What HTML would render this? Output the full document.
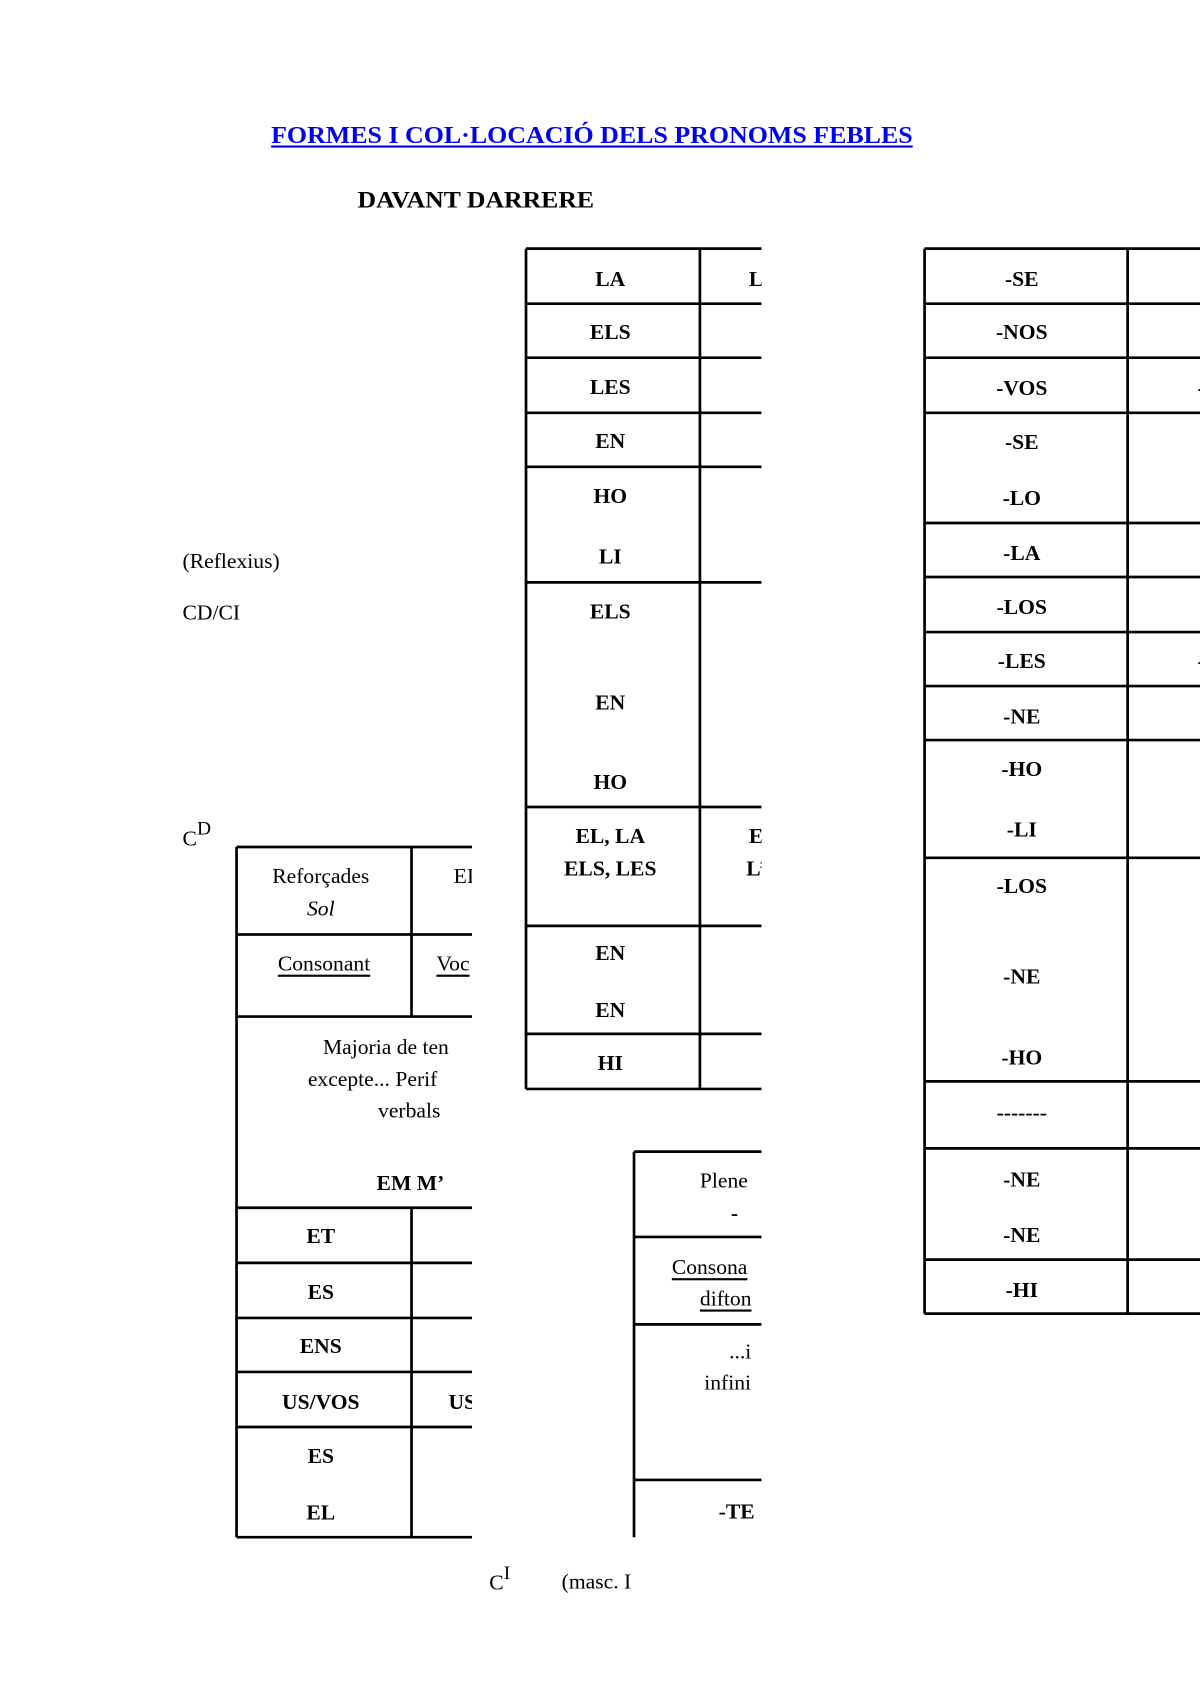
<!DOCTYPE html>
<html><head><meta charset="utf-8"><style>html,body{margin:0;padding:0;background:#fff}svg{display:block}</style></head>
<body>
<svg width="1200" height="1694" viewBox="0 0 1111 1568" xmlns="http://www.w3.org/2000/svg" font-family="'Liberation Serif', serif">
<defs>
<clipPath id="c1"><rect x="480" y="220" width="225" height="800"/></clipPath>
<clipPath id="c2"><rect x="850" y="220" width="261" height="1000"/></clipPath>
<clipPath id="c3"><rect x="210" y="775" width="227" height="660"/></clipPath>
<clipPath id="c4"><rect x="580" y="1060" width="125" height="370"/></clipPath>
</defs>
<text x="251" y="132" font-size="22" font-weight="bold" fill="#0000ee" textLength="594" lengthAdjust="spacingAndGlyphs">FORMES I COL·LOCACIÓ DELS PRONOMS FEBLES</text>
<rect x="251" y="134.5" width="594" height="2" fill="#0000ee"/>
<text x="331" y="192" font-size="21" font-weight="bold" textLength="219" lengthAdjust="spacingAndGlyphs">DAVANT DARRERE</text>

<g stroke="#000" stroke-width="2.5" fill="none">
<path d="M487 230V1008M648 230V1008"/>
<path d="M487 230H705M487 281H705M487 331H705M487 382H705M487 432H705M487 539H705M487 747H705M487 857H705M487 957H705M487 1008H705"/>
<path d="M856 230V1216M1044 230V1216"/>
<path d="M856 230H1111M856 281H1111M856 331H1111M856 382H1111M856 484H1111M856 534H1111M856 585H1111M856 635H1111M856 685H1111M856 794H1111M856 1001H1111M856 1063H1111M856 1166H1111M856 1216H1111"/>
<path d="M219 784V1423M381 784V941M381 1118V1423"/>
<path d="M219 784H437M219 865H437M219 941H437M219 1118H437M219 1169H437M219 1220H437M219 1270H437M219 1321H437M219 1423H437"/>
<path d="M587 1066V1423"/>
<path d="M587 1066H705M587 1145H705M587 1226H705M587 1370H705"/>
</g>

<g font-size="20" font-weight="bold" text-anchor="middle" dominant-baseline="central">
<g clip-path="url(#c1)">
<text x="565" y="258">LA</text><text x="565" y="307">ELS</text><text x="565" y="358">LES</text><text x="565" y="408">EN</text>
<text x="565" y="459">HO</text><text x="565" y="515">LI</text><text x="565" y="566">ELS</text><text x="565" y="650">EN</text>
<text x="565" y="724">HO</text><text x="565" y="774">EL, LA</text><text x="565" y="804">ELS, LES</text>
<text x="565" y="882">EN</text><text x="565" y="935">EN</text><text x="565" y="984">HI</text>
<text x="700" y="258">L</text><text x="700" y="774">E</text><text x="700" y="804">L’</text>
</g>
<g clip-path="url(#c2)">
<text x="946" y="258">-SE</text><text x="946" y="307">-NOS</text><text x="946" y="359">-VOS</text><text x="946" y="409">-SE</text>
<text x="946" y="461">-LO</text><text x="946" y="512">-LA</text><text x="946" y="562">-LOS</text><text x="946" y="612">-LES</text>
<text x="946" y="663">-NE</text><text x="946" y="712">-HO</text><text x="946" y="768">-LI</text><text x="946" y="820">-LOS</text>
<text x="946" y="904">-NE</text><text x="946" y="979">-HO</text><text x="946" y="1030">-------</text>
<text x="946" y="1092">-NE</text><text x="946" y="1143">-NE</text><text x="946" y="1194">-HI</text>
<text x="1112" y="359">-</text><text x="1112" y="612">-</text>
</g>
<g clip-path="url(#c3)">
<text x="297" y="1144">ET</text><text x="297" y="1196">ES</text><text x="297" y="1246">ENS</text>
<text x="297" y="1298">US/VOS</text><text x="297" y="1348">ES</text><text x="297" y="1400">EL</text>
<text x="428" y="1298">US</text>
<text x="380" y="1095">EM M’</text>
</g>
<g clip-path="url(#c4)">
<text x="682" y="1399">-TE</text>
<text x="680" y="1123">-</text>
</g>
</g>

<g font-size="20" dominant-baseline="central">
<text x="169" y="519">(Reflexius)</text>
<text x="169" y="567">CD/CI</text>
<text x="169" y="776">C<tspan font-size="18" dy="-9">D</tspan></text>
<text x="453" y="1465">C<tspan font-size="18" dy="-9">I</tspan></text>
<text x="520" y="1464">(masc. I</text>
<g clip-path="url(#c3)">
<text x="297" y="811" text-anchor="middle">Reforçades</text>
<text x="297" y="841" text-anchor="middle" font-style="italic">Sol</text>
<text x="420" y="811">EI</text>
<text x="300" y="892" text-anchor="middle" text-decoration="underline">Consonant</text>
<text x="404" y="892" text-decoration="underline">Voc</text>
<text x="299" y="969">Majoria de ten</text>
<text x="285" y="999">excepte...  Perif</text>
<text x="350" y="1028">verbals</text>
</g>
<g clip-path="url(#c4)">
<text x="648" y="1093">Plene</text>
<text x="622" y="1173" text-decoration="underline">Consona</text>
<text x="648" y="1202" text-decoration="underline">difton</text>
<text x="675" y="1251">...i</text>
<text x="652" y="1280">infini</text>
</g>
</g>
</svg>
</body></html>
